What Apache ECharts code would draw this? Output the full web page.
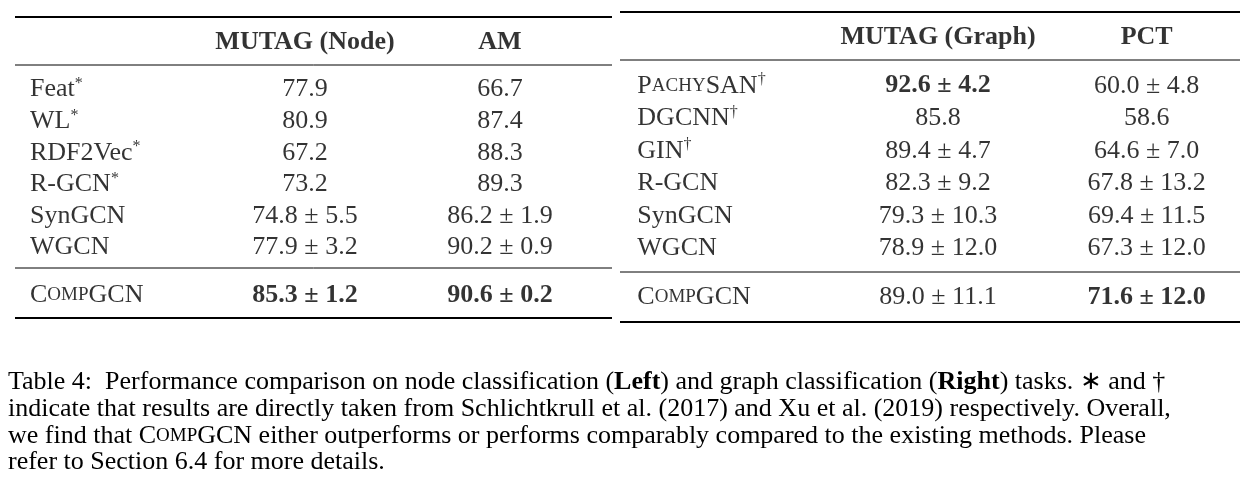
<!DOCTYPE html><html><head><meta charset="utf-8">
<script src="https://cdn.jsdelivr.net/npm/echarts@6/dist/echarts.min.js"></script>
<style>html,body{margin:0;background:#fff}#c{width:1251px;height:498px}</style></head><body><div id="c"></div>
<script>
// ---- data ----
const leftHeaders = ['', 'MUTAG (Node)', 'AM'];
const leftMethods = ['{n|Feat}{sup|*}', '{n|WL}{sup|*}', '{n|RDF2Vec}{sup|*}', '{n|R-GCN}{sup|*}', '{n|SynGCN}', '{n|WGCN}', '{n|C}{s|OMP}{n|GCN}'];
const leftMutag = ['77.9', '80.9', '67.2', '73.2', '74.8 ± 5.5', '77.9 ± 3.2', '85.3 ± 1.2'];
const leftAM = ['66.7', '87.4', '88.3', '89.3', '86.2 ± 1.9', '90.2 ± 0.9', '90.6 ± 0.2'];
const leftBold = [[6, 1], [6, 2]];
const rightHeaders = ['', 'MUTAG (Graph)', 'PCT'];
const rightMethods = ['{n|P}{s|ACHY}{n|SAN}{sup|†}', '{n|DGCNN}{sup|†}', '{n|GIN}{sup|†}', '{n|R-GCN}', '{n|SynGCN}', '{n|WGCN}', '{n|C}{s|OMP}{n|GCN}'];
const rightMutag = ['92.6 ± 4.2', '85.8', '89.4 ± 4.7', '82.3 ± 9.2', '79.3 ± 10.3', '78.9 ± 12.0', '89.0 ± 11.1'];
const rightPCT = ['60.0 ± 4.8', '58.6', '64.6 ± 7.0', '67.8 ± 13.2', '69.4 ± 11.5', '67.3 ± 12.0', '71.6 ± 12.0'];
const rightBold = [[0, 1], [6, 2]];
const rowSlots = [3, 5, 7, 9, 11, 13, 16];

const F = '"Liberation Serif","Times New Roman",serif';
const rich = {
  n: {fontFamily: F, fontSize: 26, color: '#000'},
  b: {fontFamily: F, fontSize: 26, fontWeight: 'bold', color: '#000'},
  s: {fontFamily: F, fontSize: 19, color: '#000'},
  sup: {fontFamily: F, fontSize: 16, color: '#000', padding: [0, 0, 11, 0]}
};
function build(headers, methods, c1, c2, bold, methodOffset) {
  const pts = [];
  headers.forEach((h, i) => { if (h) pts.push({value: [i, 0], label: {formatter: '{b|' + h + '}'}}); });
  methods.forEach((m, r) => {
    pts.push({value: [0, rowSlots[r]], label: {formatter: m, align: 'left', offset: [methodOffset, 0]}});
    [c1, c2].forEach((col, k) => {
      const isB = bold.some(b => b[0] === r && b[1] === k + 1);
      pts.push({value: [k + 1, rowSlots[r]], label: {formatter: (isB ? '{b|' : '{n|') + col[r] + '}'}});
    });
  });
  return pts;
}
const chart = echarts.init(document.getElementById('c'));
const ax = (gi) => ({gridIndex: gi, type: 'category', data: [0, 1, 2], show: false});
const ay = (gi) => ({gridIndex: gi, type: 'value', inverse: true, min: -1, max: 17, show: false});
const L = (x1, x2, y, w) => ({type: 'line', shape: {x1, y1: y, x2, y2: y}, style: {stroke: '#000', lineWidth: w}});
const T = (y, t) => ({type: 'text', left: 8, top: y, style: {text: t, rich: rich, font: '26px ' + F, fill: '#000'}});
chart.setOption({
  animation: false,
  grid: [{left: 12.5, width: 585, top: 26.2, height: 284.6}, {left: 625, width: 630, top: 20.75, height: 292.5}],
  xAxis: [ax(0), ax(1)], yAxis: [ay(0), ay(1)],
  series: [
    {type: 'scatter', xAxisIndex: 0, yAxisIndex: 0, symbolSize: 1, itemStyle: {color: 'rgba(0,0,0,0)'},
     label: {show: true, position: 'inside', color: '#000', rich: rich}, data: build(leftHeaders, leftMethods, leftMutag, leftAM, leftBold, -80)},
    {type: 'scatter', xAxisIndex: 1, yAxisIndex: 1, symbolSize: 1, itemStyle: {color: 'rgba(0,0,0,0)'},
     label: {show: true, position: 'inside', color: '#000', rich: rich}, data: build(rightHeaders, rightMethods, rightMutag, rightPCT, rightBold, -92)}
  ],
  graphic: [
    L(15, 612, 17, 2), L(15, 612, 65, 1), L(15, 612, 268, 1), L(15, 612, 318, 2),
    L(620, 1240, 12, 2), L(620, 1240, 60, 1), L(620, 1240, 272, 1), L(620, 1240, 322, 2),
    T(369, '{n|Table 4:  Performance comparison on node classification (}{b|Left}{n|) and graph classification (}{b|Right}{n|) tasks. ∗ and †}'),
    T(396, '{n|indicate that results are directly taken from Schlichtkrull et al. (2017) and Xu et al. (2019) respectively. Overall,}'),
    T(423, '{n|we find that C}{s|OMP}{n|GCN either outperforms or performs comparably compared to the existing methods. Please}'),
    T(449, '{n|refer to Section 6.4 for more details.}')
  ]
});
</script></body></html>
